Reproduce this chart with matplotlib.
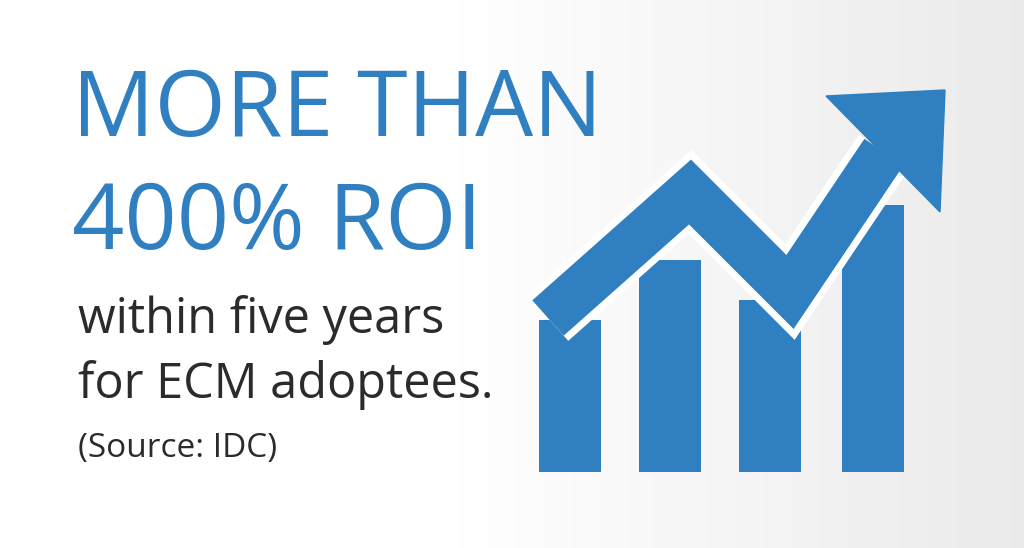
import numpy as np
import matplotlib.pyplot as plt
from matplotlib.patches import Polygon

blue = '#2f7fc1'
dark = '#2b2b2b'

# bar chart (pixel-space values)
bar_x = [570, 670, 770, 873]
bar_top = [320, 260, 300, 205]
bar_bottom = 472
bar_w = 62

# trend line vertices and arrow tip
line_x = [548, 690, 790, 884]
line_y = [318, 192, 292, 152]
tip = (945, 90)

fig = plt.figure(figsize=(10.24, 5.48), dpi=100)
ax = fig.add_axes([0, 0, 1, 1])
ax.set_xlim(0, 1024)
ax.set_ylim(548, 0)
ax.axis('off')

# light grey gradient background
g = np.linspace(0, 1, 256)
grad = np.clip((g[None, :] - 0.45) / 0.55, 0, 1) * 0.08
img = 1 - np.tile(grad, (2, 1))
ax.imshow(np.dstack([img, img, img]), extent=[0, 1024, 548, 0], aspect='auto', zorder=0)

ax.bar(bar_x, [bar_bottom - t for t in bar_top], bottom=bar_top, width=bar_w,
       color=blue, zorder=2)

# arrow: white outline then blue
ax.plot(line_x, line_y, color='white', lw=44, solid_joinstyle='miter',
        solid_capstyle='butt', zorder=3)
ax.plot(line_x, line_y, color=blue, lw=34, solid_joinstyle='miter',
        solid_capstyle='butt', zorder=4)
head = Polygon([tip, (826, 96), (940, 212)], closed=True, color=blue, zorder=5)
ax.add_patch(head)

ax.text(72, 112, 'MORE THAN', color=blue, fontsize=66, family='Open Sans',
        va='center', ha='left')
ax.text(72, 225, '400% ROI', color=blue, fontsize=66, family='Open Sans',
        va='center', ha='left')
ax.text(78, 320, 'within five years', color=dark, fontsize=35, family='Open Sans',
        va='center', ha='left')
ax.text(78, 385, 'for ECM adoptees.', color=dark, fontsize=35, family='Open Sans',
        va='center', ha='left')
ax.text(78, 448, '(Source: IDC)', color=dark, fontsize=24, family='Open Sans',
        va='center', ha='left')

fig.savefig('out.png', dpi=100)
